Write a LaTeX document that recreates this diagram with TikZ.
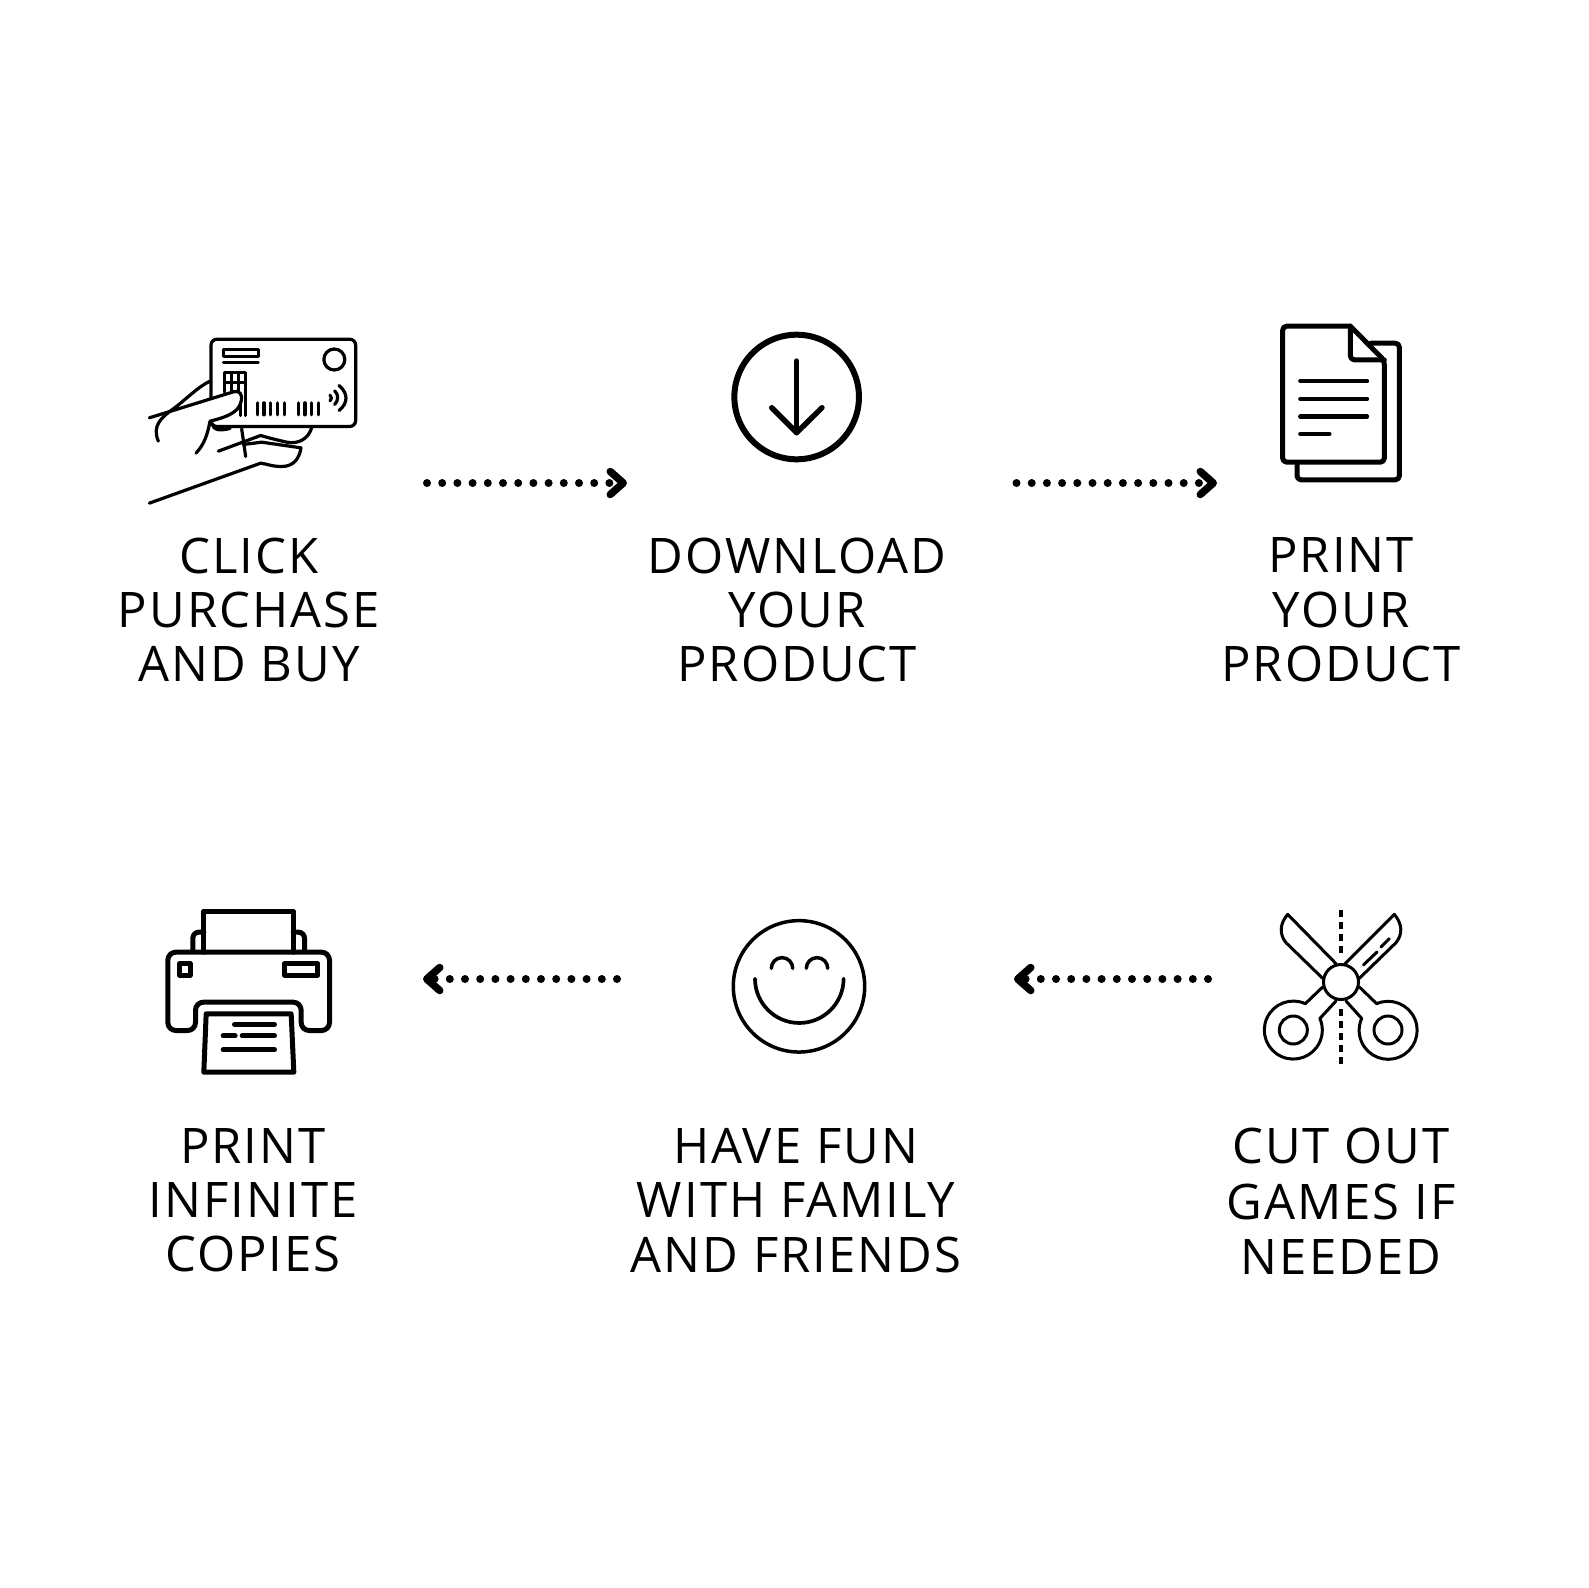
\documentclass[tikz,border=0pt]{standalone}
\usepackage{fontspec}
\usetikzlibrary{arrows.meta}
\newfontfamily\labelfamily[LetterSpace=4.2]{Open Sans}
\tikzset{
  x=1pt,y=-1pt,
  steplabel/.style={inner sep=0pt,align=center,text=black,font=\labelfamily\fontsize{49}{54.4}\selectfont},
  steplabelwide/.style={inner sep=0pt,align=center,text=black,font=\labelfamily\fontsize{49}{55.4}\selectfont},
  dotarrow/.style={line width=8pt,line cap=round,dash pattern=on 0pt off 15.2pt,
    -{Straight Barb[length=13pt,width=23pt,line width=7.5pt,round]}},
  iconline/.style={line cap=round,line join=round,draw=black},
  zoomgrid/.style={x=0.33333pt,y=-0.33333pt},
}
\begin{document}
\begin{tikzpicture}
\useasboundingbox (0,0) rectangle (1588,1588);
\fill[white] (0,0) rectangle (1588,1588);

% labels
\node[steplabel] (l1) at (249,610) {CLICK\\PURCHASE\\AND BUY};
\node[steplabel] (l2) at (797,610) {DOWNLOAD\\YOUR\\PRODUCT};
\node[steplabel] (l3) at (1341,610) {PRINT\\YOUR\\PRODUCT};
\node[steplabel] (l4) at (253,1200.3) {PRINT\\INFINITE\\COPIES};
\node[steplabel] (l5) at (796,1200.3) {HAVE FUN\\WITH FAMILY\\AND FRIENDS};
\node[steplabelwide] (l6) at (1341,1201.5) {CUT OUT\\GAMES IF\\NEEDED};

% arrows
\coordinate (a1s) at (427,483); \coordinate (a1e) at (627,483);
\coordinate (a2s) at (1016.5,483); \coordinate (a2e) at (1217,483);
\coordinate (a3s) at (1208,979); \coordinate (a3e) at (1014,979);
\coordinate (a4s) at (617,979); \coordinate (a4e) at (423,979);
\draw[dotarrow] (a1s) -- (a1e);
\draw[dotarrow] (a2s) -- (a2e);
\draw[dotarrow] (a3s) -- (a3e);
\draw[dotarrow] (a4s) -- (a4e);

% card icon
\begin{scope}[shift={(130,320.5)},zoomgrid,iconline,line width=3.2pt]
  \draw[rounded corners=6pt] (243,56) rectangle (677,318);
  \draw[line width=2.8pt] (280,88) rectangle (385,108);
  \draw[line width=2.8pt] (280,127) -- (385,127);
  \draw (613,117) circle[radius=10.5pt];
  % chip
  \draw[line width=3pt] (283,215) -- (283,157) -- (346,157) -- (346,285);
  \draw[line width=3pt] (305,157) -- (305,215) (325,157) -- (325,215) (283,185) -- (346,185);
  \draw (332,250) -- (332,285);
  % barcode
  \foreach \bx in {383,402,421,442,463,505,525,545,566}
    \draw (\bx,247) -- (\bx,283);
  % contactless
  \draw (600,224) .. controls (606,230) and (606,236) .. (600,241);
  \draw (614,211) .. controls (626,222) and (626,240) .. (614,252);
  \draw (627,195) .. controls (655,218) and (655,248) .. (627,270);
  % thumb
  \draw[fill=white] (58,292) -- (310,214) .. controls (328,208) and (338,222) .. (334,240)
     .. controls (328,268) and (310,285) .. (240,302)
     .. controls (232,345) and (222,372) .. (198,398);
  \draw (240,182) .. controls (205,198) and (170,235) .. (130,265)
     .. controls (95,290) and (65,315) .. (85,362);
  % fingers
  \draw (247,312) .. controls (252,328) and (265,332) .. (300,324);
  \draw (335,325) -- (347,408);
  \draw (545,322) .. controls (535,355) and (505,372) .. (470,365)
     .. controls (440,358) and (415,352) .. (392,345) -- (265,392);
  \draw (340,372) -- (395,365) -- (513,382) .. controls (508,415) and (490,438) .. (455,438)
     .. controls (425,438) and (410,430) .. (392,428) -- (58,548);
\end{scope}

% download icon
\begin{scope}[shift={(716,321)},zoomgrid,iconline]
  \draw[line width=6pt] (242,228) circle[radius=62.3pt];
  \draw[line width=5.4pt] (242,120) -- (242,335);
  \draw[line width=5.4pt] (167,260) -- (242,335) -- (318,260);
\end{scope}

% document icon
\begin{scope}[shift={(1251,310.5)},zoomgrid,iconline,line width=5pt]
  \draw[rounded corners=4pt] (360,98) -- (445,98) -- (445,508) -- (138,508) -- (138,458);
  \draw[rounded corners=4pt] (298,47) -- (95,47) -- (95,455) -- (400,455) -- (400,150) -- (298,47);
  \draw[rounded corners=4pt] (298,47) -- (298,148) -- (400,148);
  \draw[line width=4.4pt] (148,212) -- (348,212) (148,265) -- (348,265) (148,318) -- (348,318) (148,370) -- (235,370);
\end{scope}

% printer icon
\begin{scope}[shift={(150.5,890.5)},zoomgrid,iconline,line width=5pt]
  \draw (160,185) -- (160,62) -- (428,62) -- (428,185);
  \draw[rounded corners=6pt] (127,183) -- (127,125) -- (160,125);
  \draw[rounded corners=6pt] (428,125) -- (462,125) -- (462,183);
  \draw[rounded corners=8pt] (52,185) -- (537,185) -- (537,420) -- (452,420) -- (452,335) -- (135,335) -- (135,420) -- (52,420) -- cycle;
  \draw (167,370) -- (422,370) -- (430,545) -- (160,545) -- cycle;
  \draw (252,402) -- (372,402) (218,436) -- (254,436) (275,436) -- (372,436) (218,478) -- (372,478);
  \draw[line width=4.8pt] (87,219) rectangle (119,254);
  \draw[line width=4.8pt] (402,219) rectangle (502,254);
\end{scope}

% smiley icon
\begin{scope}[shift={(721,906)},zoomgrid,iconline,line width=3.5pt]
  \draw (234,241) circle[radius=65.7pt];
  \draw (151,187) arc[start angle=180,end angle=0,radius=10.7pt];
  \draw (256,187) arc[start angle=180,end angle=0,radius=10.7pt];
  \draw[line width=3.7pt] (102,218) arc[start angle=180,end angle=360,radius=44.3pt];
\end{scope}

% scissors icon
\begin{scope}[shift={(1241,891)},zoomgrid,iconline,line width=3pt]
  \draw[line cap=butt,line width=3.3pt,dash pattern=on 6.5pt off 5.5pt] (300,57) -- (300,200);
  \draw[line cap=butt,line width=3.3pt,dash pattern=on 6.5pt off 5.5pt] (300,355) -- (300,518);
  \draw (300,273) circle[radius=17.5pt];
  \draw (285,218) -- (140,70) .. controls (115,100) and (115,130) .. (135,155) -- (245,262);
  \draw (312,218) -- (460,70) .. controls (485,100) and (485,130) .. (465,155) -- (355,262);
  \draw (367,222) -- (408,183) (420,168) -- (445,143);
  \draw (245,288) -- (193,338) arc[start angle=65.5,end angle=383.6,radius=29pt] -- (285,330);
  \draw (355,288) -- (407,338) arc[start angle=113.3,end angle=-204.2,radius=29pt] -- (315,330);
  \draw (157,417) circle[radius=14pt];
  \draw (441,417) circle[radius=14pt];
\end{scope}
\end{tikzpicture}
\end{document}
